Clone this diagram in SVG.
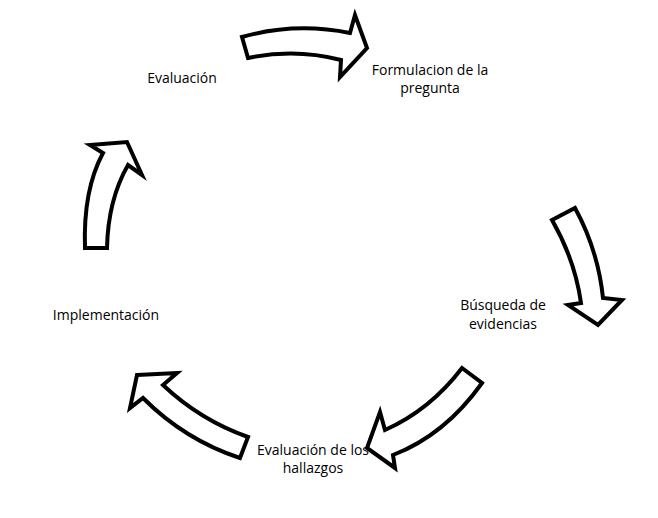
<svg xmlns="http://www.w3.org/2000/svg" width="658" height="518" viewBox="0 0 658 518">
<style>
.a{fill:#fff;stroke:#000;stroke-width:4;stroke-linejoin:miter}
text{font-family:"Open Sans","Liberation Sans",sans-serif;font-size:14px;fill:#000;text-anchor:middle}
</style>
<rect width="658" height="518" fill="#fff"/>
<g id="connectors">
<path class="a" d="M242,37 Q295,22 350,33 L355,15 L367,48 L340,77 L341,60 Q295,48 248,58 Z"/>
<path class="a" d="M552,220 L575,208 Q598,250 603,298 L622,300 L598,325 L568,305 L581,303 Q575,260 552,220 Z"/>
<path class="a" d="M462,368 L482,383 Q445,435 393,455 L395,468 L367,448 L380,412 L385,430 Q430,410 462,368 Z"/>
<path class="a" d="M137,375 L177,373 L163,385 Q200,420 248,437 L240,458 Q185,440 143,398 L130,408 Z"/>
<path class="a" d="M85,248 Q83,190 103,153 L90,145 L127,142 L142,175 L128,165 Q108,200 107,248 Z"/>
</g>
<g id="evaluacion"><text x="182" y="83">Evaluación</text></g>
<g id="formulacion"><text x="430" y="75">Formulacion de la</text><text x="430" y="93">pregunta</text></g>
<g id="busqueda"><text x="503" y="310">Búsqueda de</text><text x="503" y="329">evidencias</text></g>
<g id="implementacion"><text x="106" y="320">Implementación</text></g>
<g id="hallazgos"><text x="313" y="455">Evaluación de los</text><text x="313" y="473">hallazgos</text></g>
</svg>
